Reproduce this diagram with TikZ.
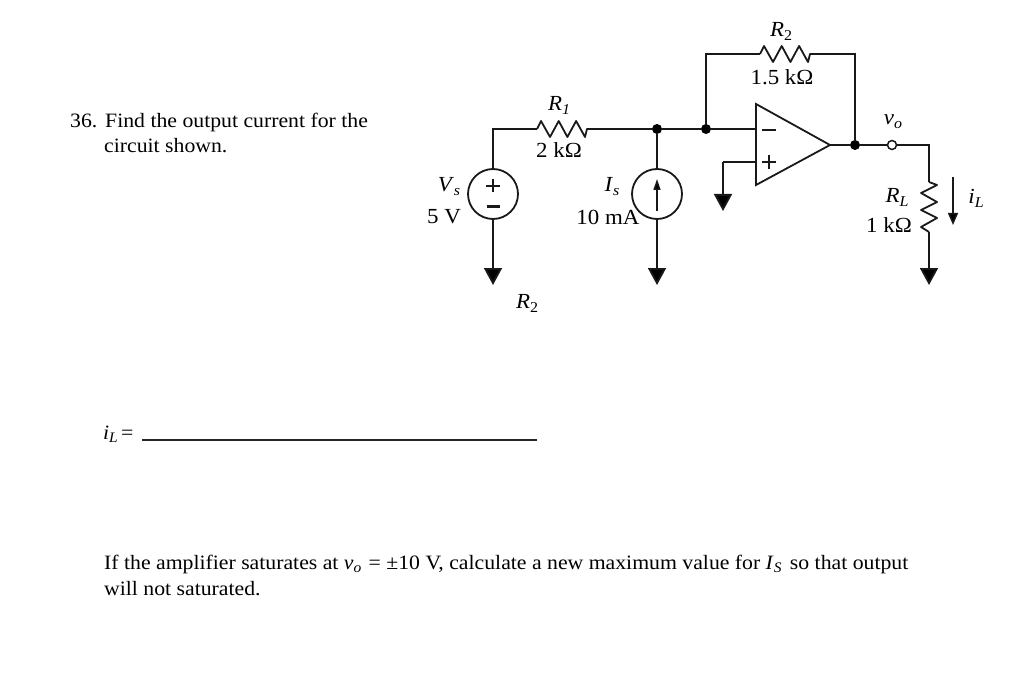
\documentclass[tikz,border=0pt]{standalone}
\usepackage{fontspec}
\setmainfont[FakeStretch=1.066]{Liberation Serif}
\usetikzlibrary{arrows.meta}
\tikzset{
  wire/.style={draw=black!90,line width=1.8pt},
  gndw/.style={wire,-{Triangle[width=18pt,length=17pt,fill=black]}},
  dotn/.style={circle,fill=black,inner sep=0pt,minimum size=10pt},
  term/.style={circle,draw=black!90,line width=1.5pt,fill=white,inner sep=0pt,minimum size=9pt},
  src/.style={circle,draw=black!90,line width=1.8pt,inner sep=0pt,minimum size=50pt},
  lab/.style={inner sep=0pt,text=black,font=\fontsize{21.5}{21.5}\selectfont},
  txt/.style={inner sep=0pt,anchor=base west,text=black,font=\fontsize{20.4}{21}\selectfont},
  sign/.style={draw=black!90,line width=2.2pt}
}
\newcommand{\Hres}[2]{\draw[wire,line join=round] (#1) -- ++(4,-8) -- ++(9,16) -- ++(8.7,-16) -- ++(8.7,16) -- ++(8.7,-16) -- ++(8.9,16) -- ++(2,-8) -- (#2);}
\newcommand{\Vres}[2]{\draw[wire,line join=round] (#1) -- ++(8,3) -- ++(-16,8) -- ++(16,9) -- ++(-16,8) -- ++(16,8) -- ++(-16,9) -- ++(8,5) -- (#2);}
\newcommand{\sbi}[1]{\raisebox{-4pt}{\fontsize{15}{15}\selectfont\textit{#1}}}
\newcommand{\sbu}[1]{\raisebox{-4pt}{\fontsize{15}{15}\selectfont #1}}
\newcommand{\tsb}[1]{\raisebox{-3pt}{\fontsize{14.5}{14.5}\selectfont\textit{#1}}}
\begin{document}
\begin{tikzpicture}[x=1pt,y=-1pt]
\useasboundingbox (0,0) rectangle (1024,676);
% named points
\node[src] (vs) at (493,194) {};
\node[src] (is) at (657,194) {};
\coordinate (vsc) at (493,129);
\coordinate (r1a) at (537,129);
\coordinate (r1b) at (587,129);
\node[dotn] (n1) at (657,129) {};
\node[dotn] (n2) at (706,129) {};
\coordinate (oma) at (756,104);
\coordinate (omb) at (756,185);
\coordinate (omo) at (830,145);
\coordinate (omm) at (756,129);
\coordinate (omp) at (756,162);
\coordinate (fl) at (706,54);
\coordinate (fr) at (855,54);
\coordinate (r2a) at (760,54);
\coordinate (r2b) at (810,54);
\node[dotn] (n3) at (855,145) {};
\node[term] (vo) at (892,145) {};
\coordinate (rc) at (929,145);
\coordinate (rla) at (929,182);
\coordinate (rlb) at (929,232);
\coordinate (g1) at (493,285);
\coordinate (g2) at (657,285);
\coordinate (g3) at (929,285);
\coordinate (gpc) at (723,162);
\coordinate (g4) at (723,211);
\coordinate (ila) at (953,177);
\coordinate (ilb) at (953,225);
\coordinate (ula) at (142,440);
\coordinate (ulb) at (537,440);
\coordinate (iab) at (657,211);
\coordinate (iat) at (657,179);
% wires
\draw[wire] (vs.north) -- (vsc) -- (r1a);
\Hres{r1a}{r1b}
\draw[wire] (r1b) -- (n1) -- (n2) -- (omm);
\draw[wire] (n1) -- (is.north);
\draw[wire] (n2) -- (fl) -- (r2a);
\Hres{r2a}{r2b}
\draw[wire] (r2b) -- (fr) -- (n3);
\draw[wire] (omo) -- (n3) -- (vo) -- (rc) -- (rla);
\Vres{rla}{rlb}
\draw[gndw] (rlb) -- (g3);
\draw[gndw] (vs.south) -- (g1);
\draw[gndw] (is.south) -- (g2);
\draw[wire] (omp) -- (gpc);
\draw[gndw] (gpc) -- (g4);
\draw[wire,line join=miter] (oma) -- (omo) -- (omb) -- cycle;
\draw[wire,line width=1.5pt,-{Triangle[width=10pt,length=12pt,fill=black]}] (ila) -- (ilb);
\draw[wire,line width=1.5pt,-{Triangle[width=7pt,length=11pt,fill=black]}] (iab) -- (iat);
\draw[black!85,line width=1.2pt] (ula) -- (ulb);
% signs
\draw[sign] (486,186) -- (500,186) (493,179.5) -- (493,192.5);
\draw[sign] (486.5,206.5) -- (499.5,206.5);
\draw[sign] (762,130) -- (776,130);
\draw[sign] (762,162) -- (776,162) (769,155) -- (769,169);
% labels
\node[lab] at (559,105) {\textit{R}\sbi{1}};
\node[lab] at (559,150) {2 k\symbol{"03A9}};
\node[lab] at (781,31) {\textit{R}\sbu{2}};
\node[lab] at (782,77) {1.5 k\symbol{"03A9}};
\node[lab] at (449,187) {\textit{V}\sbi{s}};
\node[lab] at (444,217) {5 V};
\node[lab] at (612,187) {\textit{I}\sbi{s}};
\node[lab] at (608,217) {10 mA};
\node[lab] at (527,303) {\textit{R}\sbu{2}};
\node[lab] at (893,122) {\textit{v}\sbi{o}};
\node[lab] at (897,197) {\textit{R}\sbi{L}};
\node[lab] at (889,225) {1 k\symbol{"03A9}};
\node[lab] at (976,198) {\textit{i}\sbi{L}};
% text
\node[txt] at (70,128) {36.};
\node[txt] at (105,128) {Find the output current for the};
\node[txt] at (104,153) {circuit shown.};
\node[txt] at (103,439) {\textit{i}\tsb{L}\,=};
\node[txt] at (104,569) {If the amplifier saturates at \textit{v}\tsb{o}\kern2pt{} = ±10 V, calculate a new maximum value for \textit{I}\tsb{S}\kern3pt{} so that output};
\node[txt] at (104,595) {will not saturated.};
\end{tikzpicture}
\end{document}
